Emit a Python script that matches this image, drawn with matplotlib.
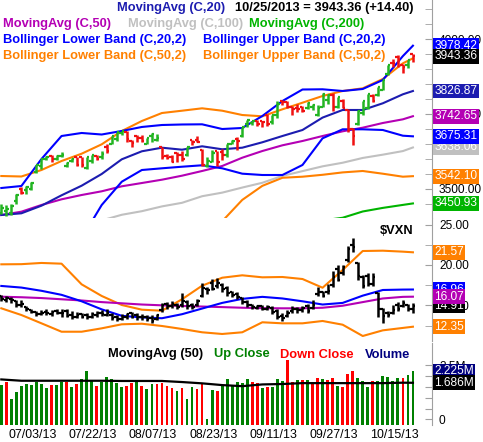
import numpy as np
import pandas as pd
import matplotlib
matplotlib.use("Agg")
import matplotlib.pyplot as plt
from matplotlib.ticker import FixedLocator, MultipleLocator, FixedFormatter, FormatStrFormatter
from matplotlib.transforms import ScaledTranslation, blended_transform_factory

plt.rcParams['font.family'] = ['Liberation Sans', 'DejaVu Sans']

W, H = 483, 442

# trading days on the chart, Jul 1 - Oct 25 2013
days = pd.bdate_range('2013-07-01', '2013-10-25')
days = days[~days.isin(pd.to_datetime(['2013-07-04', '2013-09-02']))]
idx = np.arange(len(days))

# Nasdaq composite daily bars
comp_open = [3420, 3425, 3418, 3460, 3500, 3495, 3500, 3555, 3575, 3600,
             3610, 3600, 3609, 3577, 3594, 3605, 3605, 3570, 3592, 3608,
             3605, 3640, 3650, 3668, 3686, 3690, 3660, 3675, 3670, 3650,
             3675, 3664, 3640, 3610, 3605, 3620, 3612, 3612, 3662, 3664,
             3630, 3575, 3590, 3625, 3622, 3612, 3651, 3665, 3675, 3718,
             3720, 3725, 3725, 3747, 3722, 3745, 3795, 3790, 3773, 3770,
             3773, 3770, 3773, 3747, 3774, 3797, 3815, 3775, 3794, 3765,
             3700, 3715, 3752, 3769, 3810, 3812, 3830, 3885, 3921, 3942,
             3915, 3915, 3950]
comp_high = [3450, 3447, 3450, 3482, 3505, 3509, 3524, 3580, 3601, 3609,
             3612, 3613, 3624, 3590, 3602, 3606, 3607, 3606, 3614, 3612,
             3625, 3648, 3677, 3690, 3694, 3693, 3664, 3680, 3679, 3671,
             3685, 3684, 3640, 3615, 3613, 3622, 3625, 3639, 3664, 3675,
             3632, 3605, 3631, 3626, 3632, 3651, 3664, 3672, 3707, 3730,
             3727, 3730, 3728, 3750, 3748, 3795, 3798, 3792, 3776, 3785,
             3778, 3790, 3784, 3780, 3819, 3818, 3820, 3808, 3800, 3767,
             3702, 3762, 3793, 3816, 3818, 3840, 3864, 3915, 3933, 3947,
             3917, 3929, 3952]
comp_low = [3415, 3410, 3413, 3448, 3481, 3484, 3495, 3552, 3565, 3595,
            3590, 3596, 3606, 3573, 3588, 3577, 3573, 3565, 3585, 3596,
            3601, 3620, 3648, 3660, 3680, 3656, 3640, 3656, 3655, 3648,
            3657, 3660, 3600, 3599, 3588, 3590, 3592, 3610, 3645, 3655,
            3575, 3573, 3588, 3577, 3596, 3606, 3648, 3630, 3672, 3708,
            3712, 3710, 3708, 3710, 3718, 3735, 3780, 3771, 3745, 3758,
            3755, 3766, 3763, 3743, 3772, 3785, 3760, 3770, 3769, 3689,
            3646, 3712, 3746, 3766, 3789, 3810, 3829, 3880, 3906, 3907,
            3886, 3905, 3925]
comp_close = [3434.49, 3433.40, 3443.67, 3479.38, 3484.83, 3504.26, 3520.76, 3578.30, 3600.08, 3607.49,
              3598.50, 3610.00, 3611.28, 3587.61, 3600.39, 3579.27, 3579.60, 3605.19, 3613.16, 3599.14,
              3616.47, 3626.37, 3675.74, 3689.59, 3692.95, 3665.77, 3654.01, 3669.12, 3660.11, 3669.95,
              3684.44, 3669.27, 3606.12, 3602.78, 3589.09, 3613.59, 3599.79, 3638.71, 3657.79, 3657.57,
              3578.52, 3593.35, 3620.30, 3589.87, 3612.61, 3649.04, 3658.78, 3660.01, 3706.18, 3729.02,
              3725.01, 3715.97, 3722.18, 3717.85, 3745.70, 3783.64, 3789.38, 3774.73, 3765.29, 3768.25,
              3761.10, 3787.43, 3781.59, 3771.48, 3817.98, 3815.02, 3774.34, 3807.75, 3770.38, 3694.83,
              3677.78, 3760.75, 3791.87, 3815.28, 3794.01, 3839.43, 3863.15, 3914.28, 3920.05, 3929.57,
              3907.07, 3928.96, 3943.36]

# volume, millions
volume = [1.58, 1.71, 0.94, 1.24, 1.53, 1.63, 1.58, 1.73, 1.63, 1.43,
          1.58, 1.58, 1.73, 1.73, 1.50, 1.63, 1.84, 2.23, 1.78, 1.53,
          1.73, 1.94, 1.86, 1.66, 1.50, 1.55, 1.66, 1.78, 1.55, 1.40,
          1.63, 1.63, 1.69, 1.53, 1.43, 1.30, 1.43, 0.94, 1.47, 1.38,
          1.63, 0.03, 1.35, 1.32, 1.58, 1.86, 1.58, 1.71, 1.66, 1.86,
          1.73, 1.66, 1.46, 1.50, 1.50, 1.84, 1.78, 2.73, 1.73, 1.81,
          1.81, 1.81, 1.63, 1.92, 1.86, 1.81, 1.92, 1.53, 1.50, 2.09,
          2.23, 1.92, 1.78, 1.50, 1.78, 1.78, 2.01, 1.96, 1.78, 1.92,
          1.92, 2.04, 2.225]

# $VXN daily bars
vxn_open = [16.1, 15.7, 15.8, 15.5, 15.0, 14.8, 14.4, 14.2, 13.9, 14.2,
            13.9, 14.3, 14.1, 14.3, 13.8, 13.5, 13.9, 13.8, 13.6, 13.8,
            14.1, 13.8, 13.8, 13.5, 13.3, 13.5, 14.0, 13.8, 13.6, 13.6,
            13.4, 13.3, 14.4, 15.2, 14.9, 15.1, 15.0, 15.4, 15.0, 15.0,
            16.2, 17.0, 17.8, 17.4, 17.5, 17.1, 16.6, 16.4, 15.9, 15.4,
            15.0, 14.7, 14.9, 14.6, 14.7, 14.3, 13.7, 13.7, 14.3, 14.6,
            14.4, 14.9, 14.7, 16.4, 16.7, 16.6, 17.5, 19.5, 19.0, 20.6,
            22.5, 20.2, 18.5, 18.6, 17.6, 16.5, 14.5, 14.0, 14.0, 15.0,
            14.9, 15.1, 14.5]
vxn_high = [16.3, 16.2, 16.0, 15.7, 15.6, 14.9, 14.5, 14.3, 14.4, 14.5,
            14.4, 14.5, 14.6, 14.5, 14.3, 14.2, 14.1, 14.0, 14.2, 14.3,
            14.4, 14.5, 14.0, 13.8, 13.9, 14.1, 14.2, 14.0, 13.9, 13.8,
            13.8, 13.9, 15.3, 15.4, 15.5, 15.3, 16.5, 15.6, 15.3, 15.8,
            17.8, 17.3, 18.3, 18.4, 17.8, 17.4, 16.8, 16.6, 16.0, 15.6,
            15.2, 15.1, 15.0, 15.1, 14.9, 14.5, 14.0, 14.4, 14.9, 14.8,
            14.9, 15.2, 15.6, 17.3, 16.8, 17.7, 19.2, 20.0, 20.0, 22.3,
            23.3, 20.4, 18.8, 19.0, 19.0, 16.7, 14.7, 14.3, 15.0, 15.4,
            15.6, 15.2, 15.3]
vxn_low = [15.5, 15.4, 15.3, 14.8, 14.8, 14.3, 14.0, 13.7, 13.8, 13.8,
           13.7, 13.9, 13.6, 13.5, 13.3, 13.4, 13.4, 13.3, 13.4, 13.6,
           13.7, 13.7, 13.2, 13.1, 13.2, 13.3, 13.4, 13.2, 13.2, 13.1,
           12.8, 13.2, 14.2, 14.6, 14.7, 14.5, 14.8, 14.6, 14.6, 14.9,
           16.0, 16.4, 16.9, 17.2, 16.6, 16.2, 16.0, 15.8, 15.2, 14.8,
           14.5, 14.5, 14.4, 14.4, 13.9, 13.3, 13.1, 13.6, 14.1, 14.1,
           14.2, 14.1, 14.5, 16.1, 16.0, 16.4, 17.3, 18.0, 18.7, 20.4,
           21.6, 18.1, 17.1, 17.4, 17.4, 13.6, 12.8, 13.5, 13.9, 14.3,
           14.8, 14.3, 14.0]
vxn_close = [15.8, 15.9, 15.6, 15.0, 15.2, 14.5, 14.2, 13.9, 14.0, 14.1,
             14.2, 14.0, 14.0, 13.7, 13.6, 13.8, 13.6, 13.5, 13.9, 14.0,
             13.9, 14.0, 13.4, 13.3, 13.5, 13.9, 13.6, 13.6, 13.5, 13.3,
             13.0, 13.8, 15.1, 14.9, 15.2, 14.8, 15.5, 14.9, 14.8, 15.5,
             17.1, 16.9, 17.0, 17.8, 17.0, 16.5, 16.3, 16.0, 15.4, 15.0,
             14.8, 14.9, 14.6, 14.8, 14.2, 13.6, 13.4, 14.1, 14.6, 14.4,
             14.7, 14.3, 15.0, 16.6, 16.2, 16.8, 18.5, 18.2, 19.8, 22.0,
             22.2, 18.6, 17.4, 17.6, 18.5, 14.6, 13.7, 13.8, 14.4, 14.6,
             15.3, 14.6, 14.91]

# indicator lines, read every 4th session
line_idx = list(range(0, 81, 4)) + [82]
ma20 = [3412.3, 3417.9, 3443.4, 3478.1, 3510.2, 3549.4, 3598.5, 3625.3, 3637.3, 3630.6, 3642.0,
        3632.0, 3637.3, 3655.4, 3676.4, 3696.5, 3738.0, 3763.4, 3763.4, 3785.8, 3815.9, 3826.87]
bb20_up = [3502.5, 3509.2, 3599.5, 3676.4, 3686.5, 3681.4, 3693.2, 3706.6, 3713.2, 3714.9, 3715.5,
           3699.8, 3703.2, 3743.3, 3793.4, 3831.9, 3832.6, 3826.9, 3833.6, 3863.7, 3943.7, 3978.42]
bb20_lo = [3322.0, 3327.0, 3287.0, 3280.0, 3334.0, 3445.7, 3523.6, 3562.7, 3568.4, 3573.7, 3578.5,
           3568.4, 3550.4, 3546.0, 3546.0, 3579.5, 3668.7, 3698.8, 3698.8, 3696.5, 3677.4, 3675.31]
ma50 = [3412.2, 3423.3, 3445.7, 3464.7, 3479.1, 3491.5, 3508.2, 3519.2, 3530.3, 3543.7, 3559.4,
        3576.1, 3603.8, 3626.2, 3645.3, 3659.7, 3676.4, 3692.1, 3704.2, 3719.9, 3732.2, 3742.65]
bb50_up = [3542.6, 3541.0, 3562.7, 3592.8, 3617.2, 3648.6, 3693.1, 3726.6, 3753.3, 3761.0, 3769.0,
           3761.0, 3746.6, 3742.3, 3765.7, 3787.8, 3810.2, 3826.9, 3835.9, 3867.0, 3919.5, 3936.2]
bb50_lo = [3281.8, 3305.6, 3328.7, 3336.6, 3341.0, 3334.4, 3323.3, 3311.8, 3307.3, 3326.4, 3349.8,
           3391.2, 3462.7, 3509.7, 3536.7, 3540.3, 3546.7, 3554.7, 3559.4, 3550.3, 3540.3, 3542.10]
ma100 = [3324, 3339, 3354, 3368, 3381, 3394, 3413, 3425, 3441, 3453, 3475,
         3487, 3504, 3520, 3543, 3559, 3575, 3587, 3603, 3614, 3626, 3638.06]
ma200 = [3304, 3310, 3316, 3322, 3328, 3334, 3340, 3346, 3352, 3358, 3364,
         3371, 3378, 3385, 3392, 3397, 3394, 3403, 3424, 3436, 3446, 3450.93]

vxn_ma20 = [17.4, 17.2, 16.8, 16.3, 15.5, 14.5, 13.7, 13.5, 13.4, 13.9, 14.6,
            15.3, 15.8, 16.05, 15.85, 15.5, 15.1, 15.3, 16.2, 16.9, 16.95, 16.96]
vxn_ma50 = [16.07, 16.0, 15.9, 15.75, 15.6, 15.4, 15.25, 15.1, 15.0, 14.92, 14.85,
            14.78, 14.7, 14.65, 14.63, 14.63, 14.7, 14.95, 15.4, 15.85, 16.05, 16.07]
vxn_bb_up = [20.08, 20.1, 20.25, 20.16, 17.6, 16.16, 15.04, 14.46, 14.33, 15.75, 17.43,
             18.42, 18.72, 18.47, 18.51, 18.26, 17.18, 19.38, 21.73, 21.77, 21.65, 21.57]
vxn_bb_lo = [14.63, 13.8, 12.77, 11.73, 11.73, 12.15, 12.65, 12.72, 12.44, 12.07, 11.66,
             11.45, 11.66, 12.9, 12.77, 12.77, 13.06, 12.6, 11.2, 11.9, 12.2, 12.35]

vol_ma50 = [1.84, 1.78, 1.78, 1.78, 1.78, 1.78, 1.77, 1.77, 1.77, 1.72, 1.66,
            1.58, 1.53, 1.61, 1.63, 1.67, 1.67, 1.67, 1.67, 1.67, 1.69, 1.686]

BLUE = '#0000ff'
NAVY = '#1c1cb0'
MAG = '#b400b4'
GRAY = '#c0c0c0'
GREEN = '#00b400'
ORANGE = '#ff8000'

fig = plt.figure(figsize=(W / 100, H / 100), dpi=100)


def panel(y0, y1, ylim):
    ax = fig.add_axes([0, 1 - y1 / H, 432 / W, (y1 - y0) / H])
    ax.set_xlim(-0.26, 85.8)
    ax.set_ylim(*ylim)
    for s in ['top', 'left', 'bottom']:
        ax.spines[s].set_visible(False)
    ax.spines['right'].set_color('#a0a0a0')
    ax.yaxis.tick_right()
    ax.tick_params(axis='y', which='both', direction='in', colors='#a0a0a0',
                   labelcolor='black', labelsize=8.6, pad=5, length=5)
    ax.tick_params(axis='x', which='both', bottom=False, labelbottom=False)
    return ax


def ohlc(ax, o, h, l, c, colors):
    o, h, l, c = map(np.asarray, (o, h, l, c))
    ax.vlines(idx, l, h, colors=colors, lw=1.8)
    ax.hlines(o, idx - 0.5, idx, colors=colors, lw=1.6)
    ax.hlines(c, idx, idx + 0.5, colors=colors, lw=1.6)


def tag(ax, val, txt, fc, z=5, tc='white'):
    ax.annotate(txt, xy=(1, val), xycoords=('axes fraction', 'data'),
                xytext=(1.5, 0), textcoords='offset points', ha='left', va='center',
                color=tc, fontsize=8.6, zorder=z, annotation_clip=False,
                bbox=dict(boxstyle='square,pad=0.12', fc=fc, ec='none'))


def label(x, y, s, color, size=9.3, weight='bold'):
    fig.text(x / W, 1 - y / H, s, color=color, fontsize=size, fontweight=weight,
             ha='left', va='baseline')


# ---- price panel
ax = panel(0, 218, (3402.2, 4131.2))
ax.yaxis.set_major_locator(FixedLocator([3500, 3750, 4000]))
ax.yaxis.set_minor_locator(MultipleLocator(50))
ax.yaxis.set_major_formatter(FormatStrFormatter('%.2f'))
ax.plot(line_idx, ma200, color=GREEN, lw=1.5)
ax.plot(line_idx, ma100, color=GRAY, lw=1.5)
ax.plot(line_idx, bb50_lo, color=ORANGE, lw=1.5)
ax.plot(line_idx, bb50_up, color=ORANGE, lw=1.5)
ax.plot(line_idx, ma50, color=MAG, lw=1.5)
ax.plot(line_idx, bb20_lo, color=BLUE, lw=1.5)
ax.plot(line_idx, bb20_up, color=BLUE, lw=1.5)
ax.plot(line_idx, ma20, color=NAVY, lw=1.5)
bar_col = ['#22b422' if c >= o else '#f01010' for o, c in zip(comp_open, comp_close)]
ohlc(ax, comp_open, comp_high, comp_low, comp_close, bar_col)

tag(ax, bb20_up[-1], '%.2f' % bb20_up[-1], BLUE, 5)
tag(ax, comp_close[-1], '%.2f' % comp_close[-1], 'black', 6)
tag(ax, ma20[-1], '%.2f' % ma20[-1], NAVY)
tag(ax, ma50[-1], '%.2f' % ma50[-1], MAG)
tag(ax, bb20_lo[-1], '%.2f' % bb20_lo[-1], BLUE)
tag(ax, ma100[-1], '%.2f' % ma100[-1], GRAY, 4)
tag(ax, bb50_lo[-1], '%.2f' % bb50_lo[-1], ORANGE)
tag(ax, ma200[-1], '%.2f' % ma200[-1], GREEN)

label(117, 11, 'MovingAvg (C,20)', NAVY)
chg = comp_close[-1] - comp_close[-2]
label(235, 11, '%s = %.2f (%+.2f)' % (days[-1].strftime('%m/%d/%Y'), comp_close[-1], chg), 'black')
label(3, 27.5, 'MovingAvg (C,50)', MAG)
label(128, 27.5, 'MovingAvg (C,100)', GRAY)
label(249, 27.5, 'MovingAvg (C,200)', GREEN)
label(3, 43.5, 'Bollinger Lower Band (C,20,2)', BLUE)
label(203, 43.5, 'Bollinger Upper Band (C,20,2)', BLUE)
label(3, 59, 'Bollinger Lower Band (C,50,2)', ORANGE)
label(203, 59, 'Bollinger Upper Band (C,50,2)', ORANGE)

# ---- VXN panel
av = panel(218, 341, (10.58, 25.82))
av.yaxis.set_major_locator(FixedLocator([15, 20, 25]))
av.yaxis.set_minor_locator(MultipleLocator(2.5))
av.yaxis.set_major_formatter(FormatStrFormatter('%.2f'))
av.plot(line_idx, vxn_bb_up, color=ORANGE, lw=1.5)
av.plot(line_idx, vxn_bb_lo, color=ORANGE, lw=1.5)
av.plot(line_idx, vxn_ma50, color=MAG, lw=1.5)
av.plot(line_idx, vxn_ma20, color=BLUE, lw=1.5)
ohlc(av, vxn_open, vxn_high, vxn_low, vxn_close, 'black')
tag(av, vxn_bb_up[-1], '%.2f' % vxn_bb_up[-1], ORANGE)
tag(av, vxn_ma20[-1], '%.2f' % vxn_ma20[-1], BLUE, 4)
tag(av, vxn_close[-1], '%.2f' % vxn_close[-1], 'black', 5)
tag(av, vxn_ma50[-1], '%.2f' % vxn_ma50[-1], MAG, 6)
tag(av, vxn_bb_lo[-1], '%.2f' % vxn_bb_lo[-1], ORANGE)
label(380, 234, '$VXN', 'black')

# ---- volume panel
floor = -0.26
aw = panel(343, 425, (floor, 3.52))
aw.yaxis.set_major_locator(FixedLocator([0, 0.5, 1.0, 1.5, 2.0, 2.5]))
aw.yaxis.set_major_formatter(FixedFormatter(['0', '', '', '', '', '2.5M']))
prev = [comp_close[0] - 1] + comp_close[:-1]
vol_col = ['#008000' if c >= p else '#ff0000' for c, p in zip(comp_close, prev)]
aw.bar(idx, np.asarray(volume) - floor, bottom=floor, width=0.55, color=vol_col, linewidth=0)
aw.plot(line_idx, vol_ma50, color='black', lw=1.6)
tag(aw, volume[-1], '%.3fM' % volume[-1], '#000080', 5)
tag(aw, vol_ma50[-1], '%.3fM' % vol_ma50[-1], 'black', 6)
label(108, 357.5, 'MovingAvg (50)', 'black')
label(214, 357.5, 'Up Close', '#008000')
label(280, 357.5, 'Down Close', '#ff0000')
label(365, 357.5, 'Volume', '#000080')

# date axis, every 12th session, labels start just left of the session
date_tr = blended_transform_factory(aw.transData, fig.transFigure)
shift = ScaledTranslation(-3 / 100, 0, fig.dpi_scale_trans)
for i in idx[2::12]:
    aw.text(i, 1 - 438 / H, days[i].strftime('%m/%d/%y'), transform=date_tr + shift,
            fontsize=8.9, ha='left', va='baseline', clip_on=False)

fig.savefig('out.png', dpi=100)
